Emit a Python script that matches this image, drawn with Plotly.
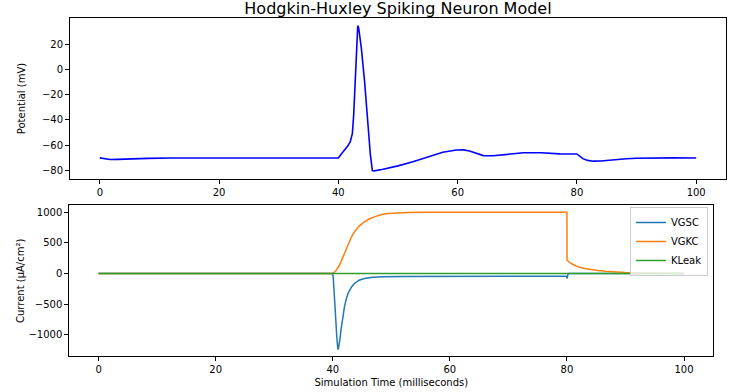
import plotly.graph_objects as go

# Membrane potential (mV) vs time (ms)
v_time = [0, 0.8, 1.7, 3, 5, 8, 12, 20, 30, 40, 40.5, 41.1, 41.6, 42.0, 42.35, 42.57, 42.7,
          42.85, 43.0, 43.15, 43.25, 43.4, 43.85, 44.4, 44.97, 45.37, 45.7, 46.0, 47.5, 50,
          52.5, 55.3, 57.5, 59.8, 61, 62.0, 63, 64.3, 66, 68, 71, 74, 77.1, 80, 80.5, 81,
          81.8, 82.7, 84, 86, 88.3, 90, 92.7, 96, 100]
potential = [-70, -70.8, -71.3, -71.2, -70.8, -70.4, -70.1, -70, -70, -70, -67, -63.8, -60.5,
             -57.2, -50.6, -36, -22.7, -5, 19, 31, 34.5, 33, 17, -9.8, -44, -67.7, -80.1,
             -80.3, -79, -76.3, -73, -68.5, -65.5, -63.8, -63.7, -64.5, -66.3, -68.2, -68.3,
             -67.5, -66, -65.9, -66.8, -66.9, -68.8, -70.6, -72, -72.6, -72.5, -71.5, -70.7,
             -70.3, -70, -70, -70.1]

# Channel currents (uA/cm^2)
na_time = [0, 40, 40.1, 40.25, 40.4, 40.55, 40.68, 40.78, 40.87, 40.96, 41.1, 41.25, 41.4,
           41.7, 42.0, 42.3, 42.6, 43.2, 43.7, 44.5, 45.4, 46.5, 48.3, 52, 60, 70, 79.9, 80,
           80.05, 80.15, 80.3, 85, 100]
vgsc = [0, 0, -90, -280, -520, -800, -1030, -1170, -1230, -1232, -1170, -1060, -926, -720,
        -545, -420, -327, -220, -163, -110, -82, -65, -55, -48, -46, -45, -45, -70, -80, -20,
        0, 0, 0]

k_time = [0, 40, 40.5, 41.0, 41.4, 42.0, 42.6, 43.2, 43.7, 44.5, 45.4, 46.2, 47.1, 48.2,
          49.4, 51, 52.8, 56, 60, 70, 80, 80.02, 80.6, 81.3, 82.0, 83.0, 84.0, 85.3, 86.5,
          88.1, 90, 93, 100]
vgkc = [0, 0, 40, 110, 190, 330, 490, 600, 680, 775, 843, 890, 925, 958, 980, 992, 997,
        1000, 1001, 1001, 1001, 217, 170, 135, 105, 80, 62, 48, 36, 25, 15, 7, 1]

leak_time = [0, 40, 80, 80.05, 100]
kleak = [0, 5, 5, 0, 0]

x_ticks = [0, 20, 40, 60, 80, 100]
v_ticks = [20, 0, -20, -40, -60, -80]
i_ticks = [1000, 500, 0, -500, -1000]

W, H = 736, 392
FONT = "DejaVu Sans"

fig = go.Figure()
fig.add_trace(go.Scatter(x=v_time, y=potential, mode="lines", line=dict(color="#0000ff", width=1.6),
                         showlegend=False, xaxis="x", yaxis="y"))
fig.add_trace(go.Scatter(x=na_time, y=vgsc, mode="lines", name="VGSC",
                         line=dict(color="#1f77b4", width=1.5), xaxis="x2", yaxis="y2"))
fig.add_trace(go.Scatter(x=k_time, y=vgkc, mode="lines", name="VGKC",
                         line=dict(color="#ff7f0e", width=1.5), xaxis="x2", yaxis="y2"))
fig.add_trace(go.Scatter(x=leak_time, y=kleak, mode="lines", name="KLeak",
                         line=dict(color="#2ca02c", width=1.5), xaxis="x2", yaxis="y2"))

axis_common = dict(showline=True, linecolor="black", linewidth=1, mirror=True, ticks="outside",
                   ticklen=4, tickwidth=1, tickcolor="black", showgrid=False, zeroline=False,
                   automargin=False,
                   tickfont=dict(family=FONT, size=10, color="black"))

fig.update_layout(
    template="none",
    width=W, height=H,
    margin=dict(l=0, r=0, t=0, b=0),
    paper_bgcolor="white", plot_bgcolor="white",
    font=dict(family=FONT, size=10, color="black"),
    title=dict(text="Hodgkin-Huxley Spiking Neuron Model", x=398 / W, xanchor="center",
               y=1 - 8.5 / H, yanchor="middle", font=dict(family=FONT, size=16, color="black")),
    xaxis=dict(domain=[70 / W, 726 / W], range=[-5, 105], tickvals=x_ticks, anchor="y", **axis_common),
    yaxis=dict(domain=[1 - 179 / H, 1 - 18 / H], range=[-86.7, 40.6], tickvals=v_ticks, anchor="x",
               title=dict(text="Potential (mV)", font=dict(family=FONT, size=10), standoff=14),
               **axis_common),
    xaxis2=dict(domain=[69.3 / W, 713.3 / W], range=[-5, 105], tickvals=x_ticks, anchor="y2",
                title=dict(text="Simulation Time (milliseconds)", font=dict(family=FONT, size=10),
                           standoff=4),
                **axis_common),
    yaxis2=dict(domain=[1 - 356.3 / H, 1 - 205.3 / H], range=[-1353, 1114], tickvals=i_ticks,
                anchor="x2",
                title=dict(text="Current (µA/cm²)", font=dict(family=FONT, size=10), standoff=1),
                **axis_common),
    legend=dict(x=708 / W, xanchor="right", y=1 - 207 / H, yanchor="top",
                bgcolor="rgba(255,255,255,0.8)", bordercolor="#cccccc", borderwidth=1,
                itemwidth=30,
                font=dict(family=FONT, size=10, color="black"), tracegroupgap=0),
)

# remove the browser's default 8px page margin so the figure sits at the window origin
fig.write_html("out.html", config={"displayModeBar": False},
               post_script="document.body.style.margin='0';")
